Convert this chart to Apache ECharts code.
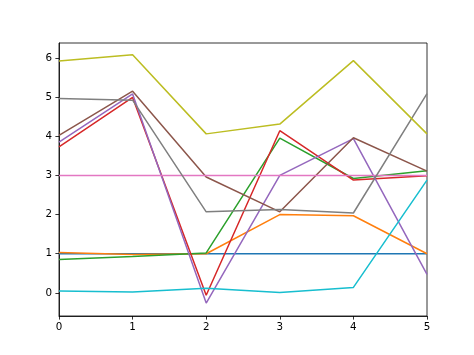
<!DOCTYPE html>
<html>
<head>
<meta charset="utf-8">
<script src="https://cdn.jsdelivr.net/npm/echarts@6/dist/echarts.min.js"></script>
<style>
html,body{margin:0;padding:0;background:#fff;}
#chart{width:474px;height:355px;}
</style>
</head>
<body>
<div id="chart"></div>
<script>
const xValues = [0, 1, 2, 3, 4, 5];
const yTicks = [0, 1, 2, 3, 4, 5, 6];
const xTicks = [0, 1, 2, 3, 4, 5];

const s0 = [1.0, 1.0, 1.0, 1.0, 1.0, 1.0];
const s1 = [1.03, 0.98, 1.0, 2.0, 1.97, 1.0];
const s2 = [0.85, 0.93, 1.02, 3.95, 2.92, 3.12];
const s3 = [3.73, 4.99, -0.06, 4.14, 2.88, 2.99];
const s4 = [3.85, 5.08, -0.26, 3.0, 3.94, 0.47];
const s5 = [4.02, 5.15, 2.96, 2.07, 3.96, 3.11];
const s6 = [3.0, 3.0, 3.0, 3.0, 3.0, 3.0];
const s7 = [4.96, 4.92, 2.07, 2.13, 2.04, 5.09];
const s8 = [5.92, 6.08, 4.06, 4.31, 5.93, 4.06];
const s9 = [0.05, 0.02, 0.12, 0.01, 0.14, 2.88];

const allSeries = [s0, s1, s2, s3, s4, s5, s6, s7, s8, s9];
const colors = ['#1f77b4','#ff7f0e','#2ca02c','#d62728','#9467bd','#8c564b','#e377c2','#7f7f7f','#bcbd22','#17becf'];

const chart = echarts.init(document.getElementById('chart'), null, {renderer:'canvas'});
const font = 'DejaVu Sans';
chart.setOption({
  animation: false,
  backgroundColor: '#ffffff',
  grid: {left: 59, right: 47, top: 43, bottom: 39, show: true, borderColor: '#000', borderWidth: 0.8, containLabel: false},
  xAxis: {
    type: 'value', min: 0, max: 5, interval: 1,
    splitLine: {show: false},
    axisLine: {show: true, onZero: false, lineStyle: {color: '#000', width: 0.8}},
    axisTick: {show: true, inside: false, length: 3.6, lineStyle: {color: '#000', width: 0.8}},
    axisLabel: {show: true, margin: 6, color: '#000', fontFamily: font, fontSize: 10.3,
      customValues: xTicks, formatter: v => String(v)}
  },
  yAxis: {
    type: 'value', min: -0.59, max: 6.38,
    splitLine: {show: false},
    axisLine: {show: true, onZero: false, lineStyle: {color: '#000', width: 0.8}},
    axisTick: {show: true, inside: false, length: 3.6, customValues: yTicks, lineStyle: {color: '#000', width: 0.8}},
    axisLabel: {show: true, margin: 7, color: '#000', fontFamily: font, fontSize: 10.3,
      customValues: yTicks, formatter: v => String(v)}
  },
  series: allSeries.map((d, i) => ({
    type: 'line',
    data: xValues.map((x, j) => [x, d[j]]),
    showSymbol: false,
    symbol: 'none',
    lineStyle: {color: colors[i], width: 1.5},
    itemStyle: {color: colors[i]},
    z: 2 + i
  }))
});
</script>
</body>
</html>
